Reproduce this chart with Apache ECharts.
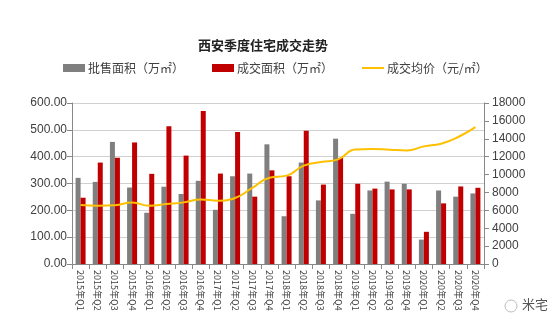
<!DOCTYPE html>
<html><head><meta charset="utf-8">
<script src="https://cdn.jsdelivr.net/npm/echarts@6/dist/echarts.min.js"></script>
<style>html,body{margin:0;padding:0;background:#fff}#c{width:554px;height:330px}</style>
</head><body><div id="c"></div>
<script>
var categories = ['2015年Q1','2015年Q2','2015年Q3','2015年Q4','2016年Q1','2016年Q2','2016年Q3','2016年Q4','2017年Q1','2017年Q2','2017年Q3','2017年Q4','2018年Q1','2018年Q2','2018年Q3','2018年Q4','2019年Q1','2019年Q2','2019年Q3','2019年Q4','2020年Q1','2020年Q2','2020年Q3','2020年Q4'];
var approvedArea = [321, 306, 455, 285, 191, 288, 261, 310, 202, 327, 337, 446, 178, 378, 237, 467, 187, 274, 307, 299, 91, 274, 251, 263];
var soldArea = [247, 378, 396, 453, 336, 513, 404, 570, 337, 492, 251, 349, 327, 497, 296, 395, 299, 281, 278, 278, 120, 226, 289, 284];
var avgPrice = [6600, 6520, 6560, 6880, 6520, 6700, 6890, 7210, 7080, 7380, 8500, 9650, 9880, 11000, 11400, 11700, 12800, 12850, 12780, 12700, 13150, 13450, 14200, 15300];
var seriesNames = ['批售面积（万㎡）', '成交面积（万㎡）', '成交均价（元/㎡）'];

var chart = echarts.init(document.getElementById('c'));
var txt = '#404040';
chart.setOption({
  animation: false,
  title: {text: '西安季度住宅成交走势', left: 258, textAlign: 'center', top: 34,
    textStyle: {fontSize: 13, fontWeight: 'bold', color: '#222', fontFamily: 'Noto Sans CJK SC'}},
  legend: {top: 57, left: 58, itemWidth: 22, itemHeight: 8, itemGap: 28,
    textStyle: {fontSize: 12, color: txt, fontFamily: 'Noto Sans CJK SC', padding: [0,0,0,-2]},
    data: [{name: seriesNames[0], icon: 'rect'}, {name: seriesNames[1], icon: 'rect'},
           {name: seriesNames[2], itemStyle: {opacity: 0}, lineStyle: {color: '#ffc000', width: 2}}]},
  grid: {left: 72, right: 70, top: 103, bottom: 66},
  xAxis: {type: 'category', data: categories,
    axisLine: {lineStyle: {color: '#888'}},
    axisTick: {show: true, lineStyle: {color: '#888'}},
    axisLabel: {rotate: -90, fontSize: 9, color: txt, interval: 0, margin: 6, fontFamily: 'Noto Sans CJK SC'}},
  yAxis: [
    {type: 'value', min: 0, max: 600, interval: 100,
      axisLine: {show: true, lineStyle: {color: '#888'}},
      axisTick: {show: true, lineStyle: {color: '#888'}},
      splitLine: {lineStyle: {color: '#d0d0d0'}},
      axisLabel: {fontSize: 12, color: txt, margin: 5, formatter: function(v){return v.toFixed(2);}, fontFamily: 'Liberation Sans'}},
    {type: 'value', min: 0, max: 18000, interval: 2000, position: 'right',
      axisLine: {show: true, lineStyle: {color: '#888'}},
      axisTick: {show: true, lineStyle: {color: '#888'}},
      splitLine: {show: false},
      axisLabel: {fontSize: 12, color: txt, margin: 8, formatter: function(v){return String(v);}, fontFamily: 'Liberation Sans'}}
  ],
  series: [
    {name: seriesNames[0], type: 'bar', data: approvedArea, barWidth: 5, barGap: '0%', itemStyle: {color: '#7f7f7f'}},
    {name: seriesNames[1], type: 'bar', data: soldArea, barWidth: 5, barGap: '0%', itemStyle: {color: '#c00000'}},
    {name: seriesNames[2], type: 'line', yAxisIndex: 1, data: avgPrice, smooth: true, symbol: 'none', showSymbol: false,
      lineStyle: {color: '#ffc000', width: 2}, itemStyle: {color: '#ffc000'}}
  ],
  graphic: [
    {type: 'circle', shape: {cx: 511, cy: 306, r: 6}, style: {fill: 'none', stroke: '#bbb', lineWidth: 1}},
    {type: 'text', left: 522, top: 298, style: {text: '米宅', fontSize: 13, fill: '#555', fontFamily: 'Noto Sans CJK SC'}}
  ]
});
</script></body></html>
